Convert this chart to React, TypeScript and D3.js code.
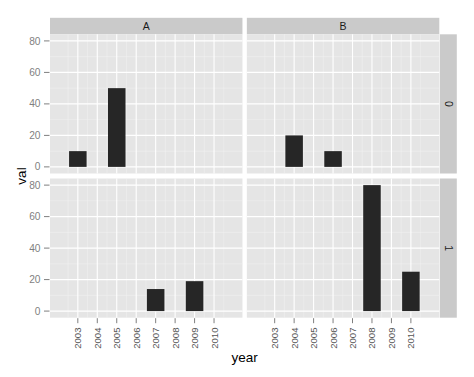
import React from "react";
import * as d3 from "d3";

const colFacets = ["A", "B"];
const rowFacets = ["0", "1"];
const yearTicks = [2003, 2004, 2005, 2006, 2007, 2008, 2009, 2010];
const valTicks = [0, 20, 40, 60, 80];
const barYears = [2003, 2005, 2004, 2006, 2007, 2009, 2008, 2010];
const barVals = [10, 50, 20, 10, 14, 19, 80, 25];
const barCol = ["A", "A", "B", "B", "A", "A", "B", "B"];
const barRow = ["0", "0", "0", "0", "1", "1", "1", "1"];

const W = 474, H = 377;
const panelLeft = 50, panelRight = 439.3, colGap = 4.4;
const panelTop = 34.3, panelBottom = 317.7, rowGap = 5;
const stripTop = 17.8;
const stripRightW = 17;

export default function App() {
  const pw = (panelRight - panelLeft - colGap) / 2;
  const ph = (panelBottom - panelTop - rowGap) / 2;
  const x = d3.scaleLinear().domain([2001.57, 2011.46]).range([0, pw]);
  const y = d3.scaleLinear().domain([-4.2, 84.2]).range([ph, 0]);
  const font = "'Liberation Sans', Arial, sans-serif";
  const minorX = d3.range(2002.5, 2011, 1);
  const minorY = [-10, 10, 30, 50, 70];
  const bw = x(2000.9) - x(2000);

  return (
    <svg width={W} height={H} style={{ position: "absolute", left: 0, top: 0 }} fontFamily={font}>
      <rect width={W} height={H} fill="#fff" />
      {colFacets.map((c, ci) => {
        const px = panelLeft + ci * (pw + colGap);
        return (
          <g key={"s" + c}>
            <rect x={px} y={stripTop} width={pw} height={panelTop - stripTop} fill="#cacaca" />
            <text x={px + pw / 2} y={(stripTop + panelTop) / 2 + 3.7} textAnchor="middle" fontSize={10.5} fill="#1a1a1a">{c}</text>
          </g>
        );
      })}
      {rowFacets.map((r, ri) => {
        const py = panelTop + ri * (ph + rowGap);
        const sx = panelRight + 0.5;
        return (
          <g key={"r" + r}>
            <rect x={sx} y={py} width={stripRightW} height={ph} fill="#cacaca" />
            <text transform={`translate(${sx + stripRightW / 2 - 3.6},${py + ph / 2}) rotate(90)`} textAnchor="middle" fontSize={10.5} fill="#1a1a1a">{r}</text>
          </g>
        );
      })}
      {rowFacets.map((r, ri) =>
        colFacets.map((c, ci) => {
          const px = panelLeft + ci * (pw + colGap);
          const py = panelTop + ri * (ph + rowGap);
          return (
            <g key={r + c} transform={`translate(${px},${py})`}>
              <rect width={pw} height={ph} fill="#e5e5e5" />
              {minorX.filter(v => x(v) > 0 && x(v) < pw).map(v => (
                <line key={"mx" + v} x1={x(v)} x2={x(v)} y1={0} y2={ph} stroke="#f2f2f2" strokeWidth={0.5} />
              ))}
              {minorY.filter(v => y(v) > 0 && y(v) < ph).map(v => (
                <line key={"my" + v} x1={0} x2={pw} y1={y(v)} y2={y(v)} stroke="#f2f2f2" strokeWidth={0.5} />
              ))}
              {yearTicks.map(v => (
                <line key={"gx" + v} x1={x(v)} x2={x(v)} y1={0} y2={ph} stroke="#fff" strokeWidth={1.1} />
              ))}
              {valTicks.map(v => (
                <line key={"gy" + v} x1={0} x2={pw} y1={y(v)} y2={y(v)} stroke="#fff" strokeWidth={1.1} />
              ))}
              {barVals.map((v, i) =>
                barCol[i] === c && barRow[i] === r ? (
                  <rect key={"b" + i} x={x(barYears[i]) - bw / 2} y={y(v)} width={bw} height={y(0) - y(v)} fill="#262626" />
                ) : null
              )}
            </g>
          );
        })
      )}
      {rowFacets.map((r, ri) => {
        const py = panelTop + ri * (ph + rowGap);
        return (
          <g key={"ya" + r} transform={`translate(${panelLeft},${py})`}>
            {valTicks.map(v => (
              <g key={v}>
                <line x1={-6} x2={-0.5} y1={y(v)} y2={y(v)} stroke="#7f7f7f" strokeWidth={1} />
                <text x={-9.5} y={y(v) + 3.6} textAnchor="end" fontSize={10.2} fill="#7f7f7f">{v}</text>
              </g>
            ))}
          </g>
        );
      })}
      {colFacets.map((c, ci) => {
        const px = panelLeft + ci * (pw + colGap);
        return (
          <g key={"xa" + c} transform={`translate(${px},${panelBottom})`}>
            {yearTicks.map(v => (
              <g key={v}>
                <line x1={x(v)} x2={x(v)} y1={0.5} y2={5.5} stroke="#7f7f7f" strokeWidth={1} />
                <text transform={`translate(${x(v) + 3.5},${9.8}) rotate(-90)`} textAnchor="end" fontSize={9.6} fill="#555">{v}</text>
              </g>
            ))}
          </g>
        );
      })}
      <text transform={`translate(${26},${(panelTop + panelBottom) / 2}) rotate(-90)`} textAnchor="middle" fontSize={13.5} fill="#000">val</text>
      <text x={(panelLeft + panelRight) / 2} y={362} textAnchor="middle" fontSize={13.5} fill="#000">year</text>
    </svg>
  );
}
